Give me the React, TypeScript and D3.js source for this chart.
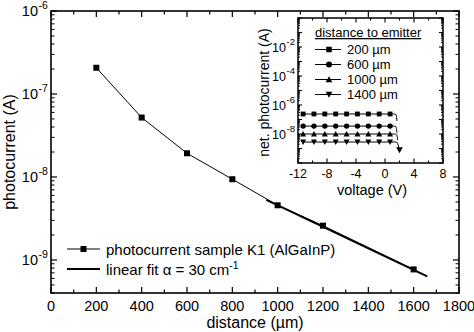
import React from "react";
import * as d3 from "d3";

// ---------- main data ----------
const distances = [200, 400, 600, 800, 1000, 1200, 1600];
const photocurrent = [2.07e-7, 5.2e-8, 1.93e-8, 9.4e-9, 4.56e-9, 2.59e-9, 7.7e-10];
const fitX = [950, 1660];
const fitY = [5.3e-9, 6.35e-10];
const xTicks = [0, 200, 400, 600, 800, 1000, 1200, 1400, 1600, 1800];
const yDecades = [-9, -8, -7, -6];

// ---------- inset data ----------
const insetVolt = [-11.3, -9.8, -8.3, -6.8, -5.3, -3.8, -2.3, -0.8, 0.7];
const s200 = [2.4e-7, 2.4e-7, 2.4e-7, 2.4e-7, 2.4e-7, 2.4e-7, 2.4e-7, 2.4e-7, 2.4e-7];
const s600 = [3.5e-8, 3.5e-8, 3.5e-8, 3.5e-8, 3.5e-8, 3.5e-8, 3.5e-8, 3.5e-8, 3.5e-8];
const s1000 = [1.0e-8, 1.0e-8, 1.0e-8, 1.0e-8, 1.0e-8, 1.0e-8, 1.0e-8, 1.0e-8, 1.0e-8];
const s1400 = [2.8e-9, 2.8e-9, 2.8e-9, 2.8e-9, 2.8e-9, 2.8e-9, 2.8e-9, 2.8e-9, 2.8e-9];
const tailV200 = [1.2, 1.5, 1.6, 1.65];
const tail200 = [2.4e-7, 2.2e-7, 1.4e-7, 8e-8];
const tailV600 = [1.2, 1.5, 1.6, 1.65];
const tail600 = [3.5e-8, 3.2e-8, 2.0e-8, 1.2e-8];
const tailV1000 = [1.3, 1.6, 1.7, 1.75];
const tail1000 = [1.0e-8, 9e-9, 6e-9, 3.8e-9];
const tailV1400 = [1.4, 1.7, 1.85, 2.0];
const tail1400 = [2.8e-9, 2.5e-9, 1.5e-9, 7.9e-10];
const insetLabels = ["200 µm", "600 µm", "1000 µm", "1400 µm"];
const insetXTicks = [-12, -8, -4, 0, 4, 8];
const insetYLabelExp = [-2, -4, -6, -8];

const FONT = "'Liberation Sans', Arial, sans-serif";

function Marker({ kind, x, y, s }: { kind: string; x: number; y: number; s: number }) {
  const h = s / 2;
  if (kind === "square") return <rect x={x - h} y={y - h} width={s} height={s} fill="#000" />;
  if (kind === "circle") return <circle cx={x} cy={y} r={h + 0.3} fill="#000" />;
  if (kind === "up")
    return <path d={`M${x},${y - h - 0.6}L${x + h + 0.6},${y + h}L${x - h - 0.6},${y + h}Z`} fill="#000" />;
  return <path d={`M${x},${y + h + 0.6}L${x + h + 0.6},${y - h}L${x - h - 0.6},${y - h}Z`} fill="#000" />;
}

export default function App() {
  // main scales
  const x = d3.scaleLinear().domain([0, 1800]).range([51, 459]);
  const y = d3.scaleLog().domain([4e-10, 1e-6]).range([293, 11]);
  const [x0, x1] = x.range();
  const [yb, yt] = y.range();

  // inset scales
  const ix = d3.scaleLinear().domain([-12, 8]).range([298, 443]);
  const iy = d3.scaleLog().domain([1e-10, 1]).range([163, 18]);
  const [ix0, ix1] = ix.range();
  const [iyb, iyt] = iy.range();

  const line = d3
    .line<[number, number]>()
    .x((d) => x(d[0]))
    .y((d) => y(d[1]));
  const dataPts: [number, number][] = distances.map((d, i) => [d, photocurrent[i]]);
  const fitPts: [number, number][] = fitX.map((d, i) => [d, fitY[i]]);

  const iline = d3
    .line<[number, number]>()
    .x((d) => ix(d[0]))
    .y((d) => iy(d[1]))
    .curve(d3.curveMonotoneX);

  const series = [
    { vals: s200, tv: tailV200, tval: tail200, kind: "square" },
    { vals: s600, tv: tailV600, tval: tail600, kind: "circle" },
    { vals: s1000, tv: tailV1000, tval: tail1000, kind: "up" },
    { vals: s1400, tv: tailV1400, tval: tail1400, kind: "down" },
  ];

  const xMinor = d3.range(0, 1801, 100).filter((v) => v % 200 !== 0);
  const yMinor: number[] = [];
  for (let e = -10; e <= -7; e++) for (let m = 2; m <= 9; m++) {
    const v = m * Math.pow(10, e);
    if (v >= 4e-10 && v <= 1e-6) yMinor.push(v);
  }
  const iyMinor: number[] = [];
  for (let e = -10; e <= -1; e++) for (let m = 2; m <= 9; m++) iyMinor.push(m * Math.pow(10, e));
  const iyMajor = d3.range(-10, 1).map((e) => Math.pow(10, e));
  const ixAll = d3.range(-12, 9, 2);

  return (
    <svg
      width={474}
      height={332}
      style={{ position: "absolute", left: 0, top: 0, background: "#fff" }}
      fontFamily={FONT}
    >
      <rect x={0} y={0} width={474} height={332} fill="#fff" />
      {/* main frame */}
      <rect x={x0} y={yt} width={x1 - x0} height={yb - yt} fill="none" stroke="#000" strokeWidth={1.6} />
      {xTicks.map((t) => (
        <g key={"xt" + t}>
          <line x1={x(t)} x2={x(t)} y1={yb} y2={yb - 6} stroke="#000" strokeWidth={1.2} />
          <line x1={x(t)} x2={x(t)} y1={yt} y2={yt + 6} stroke="#000" strokeWidth={1.2} />
          <text x={x(t)} y={yb + 18} textAnchor="middle" fontSize={14.5}>
            {t}
          </text>
        </g>
      ))}
      {xMinor.map((t) => (
        <g key={"xm" + t}>
          <line x1={x(t)} x2={x(t)} y1={yb} y2={yb - 3.5} stroke="#000" strokeWidth={1.2} />
          <line x1={x(t)} x2={x(t)} y1={yt} y2={yt + 3.5} stroke="#000" strokeWidth={1.2} />
        </g>
      ))}
      {yDecades.map((e) => {
        const v = Math.pow(10, e);
        return (
          <g key={"yd" + e}>
            <line x1={x0} x2={x0 + 6} y1={y(v)} y2={y(v)} stroke="#000" strokeWidth={1.2} />
            <line x1={x1} x2={x1 - 6} y1={y(v)} y2={y(v)} stroke="#000" strokeWidth={1.2} />
            <text x={38} y={y(v) + 5} textAnchor="end" fontSize={14.5}>
              10
            </text>
            <text x={38.5} y={y(v) - 1.8} textAnchor="start" fontSize={10.5}>
              {"-" + Math.abs(e)}
            </text>
          </g>
        );
      })}
      {yMinor.map((v, i) => (
        <g key={"ym" + i}>
          <line x1={x0} x2={x0 + 3.5} y1={y(v)} y2={y(v)} stroke="#000" strokeWidth={1} />
          <line x1={x1} x2={x1 - 3.5} y1={y(v)} y2={y(v)} stroke="#000" strokeWidth={1} />
        </g>
      ))}
      <text x={255} y={328} textAnchor="middle" fontSize={16}>
        distance (µm)
      </text>
      <text transform={`translate(15,${(yb + yt) / 2}) rotate(-90)`} textAnchor="middle" fontSize={16}>
        photocurrent (A)
      </text>

      {/* data */}
      <path d={line(fitPts) || ""} fill="none" stroke="#000" strokeWidth={2} />
      <path d={line(dataPts) || ""} fill="none" stroke="#000" strokeWidth={1} />
      {dataPts.map((d, i) => (
        <rect key={"m" + i} x={x(d[0]) - 3} y={y(d[1]) - 3} width={6} height={6} fill="#000" />
      ))}

      {/* main legend */}
      <line x1={67} x2={100} y1={249} y2={249} stroke="#000" strokeWidth={1} />
      <rect x={80.5} y={246} width={6} height={6} fill="#000" />
      <text x={106} y={254.5} fontSize={15}>
        photocurrent sample K1 (AlGaInP)
      </text>
      <line x1={67} x2={100} y1={269} y2={269} stroke="#000" strokeWidth={2} />
      <text x={106} y={274.5} fontSize={15}>
        linear fit α = 30 cm
        <tspan dy={-6} fontSize={10.5}>-1</tspan>
      </text>

      {/* ---------- inset ---------- */}
      <rect x={ix0} y={iyt} width={ix1 - ix0} height={iyb - iyt} fill="#fff" stroke="#000" strokeWidth={1.5} />
      {ixAll.map((t) => {
        const len = t % 4 === 0 ? 4.5 : 2.5;
        return (
          <g key={"ixt" + t}>
            <line x1={ix(t)} x2={ix(t)} y1={iyb} y2={iyb - len} stroke="#000" strokeWidth={1.1} />
            <line x1={ix(t)} x2={ix(t)} y1={iyt} y2={iyt + len} stroke="#000" strokeWidth={1.1} />
          </g>
        );
      })}
      {insetXTicks.map((t) => (
        <text key={"ixl" + t} x={ix(t)} y={iyb + 15} textAnchor="middle" fontSize={12.5}>
          {t < 0 ? "-" + Math.abs(t) : t}
        </text>
      ))}
      {iyMajor.map((v, i) => (
        <g key={"iyM" + i}>
          <line x1={ix0} x2={ix0 + 4} y1={iy(v)} y2={iy(v)} stroke="#000" strokeWidth={1.1} />
          <line x1={ix1} x2={ix1 - 4} y1={iy(v)} y2={iy(v)} stroke="#000" strokeWidth={1.1} />
        </g>
      ))}
      {iyMinor.map((v, i) => (
        <g key={"iym" + i}>
          <line x1={ix0} x2={ix0 + 2} y1={iy(v)} y2={iy(v)} stroke="#000" strokeWidth={0.9} />
          <line x1={ix1} x2={ix1 - 2} y1={iy(v)} y2={iy(v)} stroke="#000" strokeWidth={0.9} />
        </g>
      ))}
      {insetYLabelExp.map((e) => {
        const v = Math.pow(10, e);
        return (
          <g key={"iyl" + e}>
            <text x={286} y={iy(v) + 4.5} textAnchor="end" fontSize={12.5}>
              10
            </text>
            <text x={286.5} y={iy(v) - 2.5} fontSize={9.5}>
              {"-" + Math.abs(e)}
            </text>
          </g>
        );
      })}
      <text x={372} y={195} textAnchor="middle" fontSize={14.5}>
        voltage (V)
      </text>
      <text transform={`translate(269,${(iyb + iyt) / 2 + 2}) rotate(-90)`} textAnchor="middle" fontSize={14}>
        net. photocurrent (A)
      </text>

      {series.map((s, si) => {
        const pts: [number, number][] = insetVolt.map((v, i) => [v, s.vals[i]]);
        const tail: [number, number][] = s.tv.map((v, i) => [v, s.tval[i]]);
        const all = pts.concat(tail);
        return (
          <g key={"s" + si}>
            <path d={iline(all) || ""} fill="none" stroke="#000" strokeWidth={1} />
            {pts.map((p, i) => (
              <Marker key={i} kind={s.kind} x={ix(p[0])} y={iy(p[1])} s={4.8} />
            ))}
            {s.kind === "down" && (
              <Marker kind="down" x={ix(tail[tail.length - 1][0])} y={iy(tail[tail.length - 1][1])} s={5.5} />
            )}
          </g>
        );
      })}

      {/* inset legend */}
      <text x={315} y={37} fontSize={13} textDecoration="underline">
        distance to emitter
      </text>
      {insetLabels.map((lab, i) => {
        const ly = 49.5 + i * 15;
        return (
          <g key={"il" + i}>
            <line x1={315} x2={341} y1={ly} y2={ly} stroke="#000" strokeWidth={1} />
            <Marker kind={series[i].kind} x={329} y={ly} s={5.5} />
            <text x={347} y={ly + 4.5} fontSize={13}>
              {lab}
            </text>
          </g>
        );
      })}
    </svg>
  );
}
